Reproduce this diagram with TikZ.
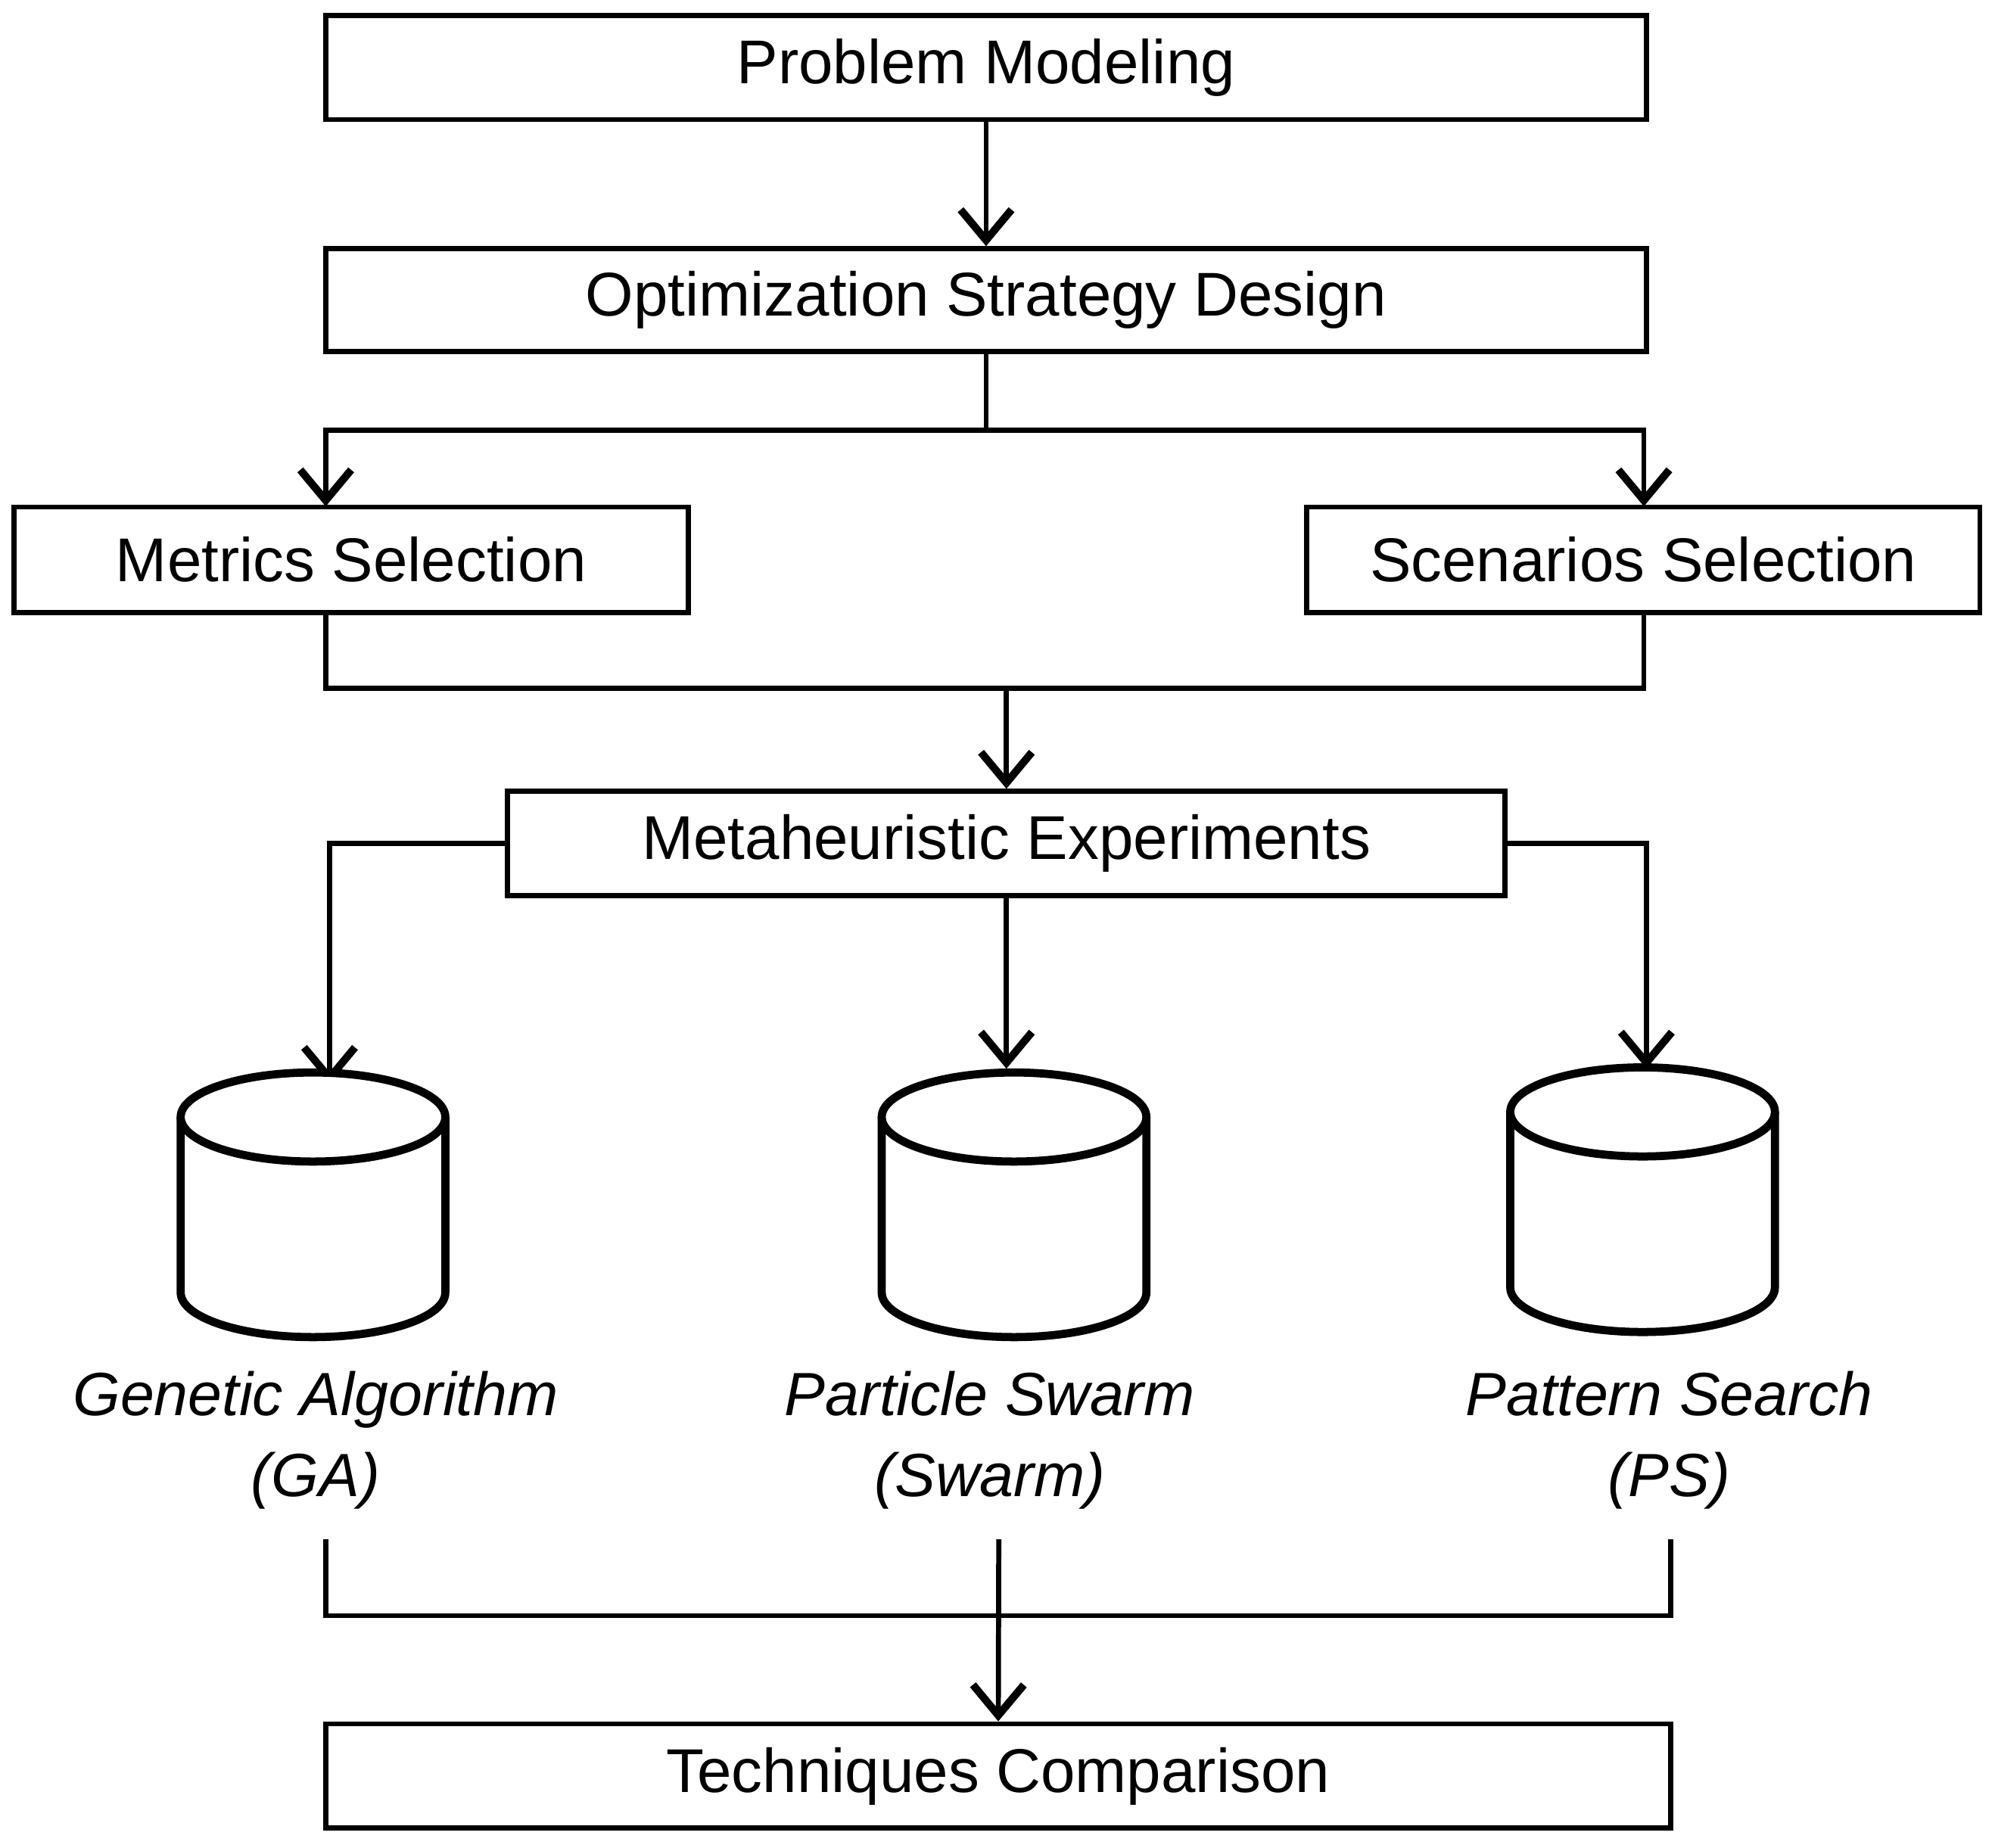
\documentclass[tikz,border=0pt]{standalone}
\usepackage{fontspec}
\setmainfont{Liberation Sans}
\usetikzlibrary{arrows.meta}
\begin{document}
\begin{tikzpicture}[x=0.5pt,y=-0.5pt,
  box/.style={draw,line width=2pt,inner sep=0pt,font=\fontsize{24.3}{28}\selectfont},
  ln/.style={line width=2pt},
  arr/.style={ln,-{Straight Barb[length=12pt,width=20pt,line width=3pt]}},
  cyl/.style={line width=3.2pt},
  lab/.style={font=\fontsize{24}{32}\selectfont\itshape,align=center}]
\useasboundingbox (0,0) rectangle (1568,1452);
\node[box,minimum width=519pt,minimum height=41pt] (pm) at (775,53) {Problem Modeling};
\node[box,minimum width=519pt,minimum height=40.5pt] (os) at (775,236) {Optimization Strategy Design};
\node[box,minimum width=265pt,minimum height=41.5pt] (ms) at (276,440) {Metrics Selection};
\node[box,minimum width=264.5pt,minimum height=41.5pt] (ss) at (1291.5,440) {Scenarios Selection};
\node[box,minimum width=392pt,minimum height=41pt] (me) at (791,663) {Metaheuristic Experiments};
\node[box,minimum width=528.5pt,minimum height=41pt] (tc) at (784.5,1396) {Techniques Comparison};
\draw[arr] (pm) -- (os);
\coordinate (j1) at (775,338);
\draw[ln] (os.south) -- (j1);
\draw[arr] (j1) -| (256,398);
\draw[arr] (j1) -| (1292,398);
\coordinate (j2) at (791,541);
\draw[ln] (256,481) |- (j2);
\draw[ln] (1292,481) |- (j2);
\draw[arr] (j2) -- (me);
\coordinate (ga) at (259,852);
\coordinate (sw) at (791,840);
\coordinate (ps) at (1294,840);
\draw[arr] (me.west) -| (ga);
\draw[arr] (me.south) -- (sw);
\draw[arr] (me.east) -| (ps);
% cylinders
\foreach \cx/\ty in {246/878, 797/878, 1291/874}{
  \draw[cyl,fill=white] (\cx-104,\ty) -- (\cx-104,\ty+138) arc[start angle=180,end angle=0,x radius=104,y radius=35] -- (\cx+104,\ty);
  \draw[cyl,fill=white] (\cx,\ty) ellipse[x radius=104,y radius=35];
}
\node[lab] (gal) at (248,1132) {Genetic Algorithm\\(GA)};
\node[lab] (swl) at (778,1132) {Particle Swarm\\(Swarm)};
\node[lab] (psl) at (1312,1132) {Pattern Search\\(PS)};
\coordinate (j3) at (785,1270);
\draw[ln] (256,1210) |- (j3);
\draw[ln] (1313,1210) |- (j3);
\draw[arr] (785,1210) -- (tc);
\end{tikzpicture}
\end{document}
